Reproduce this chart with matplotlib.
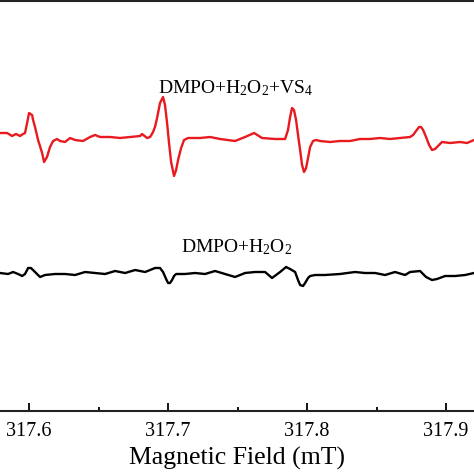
import matplotlib
matplotlib.use("Agg")
import matplotlib.pyplot as plt
from matplotlib.ticker import MultipleLocator

plt.rcParams['font.family'] = ['Liberation Serif', 'DejaVu Serif']
plt.rcParams['mathtext.default'] = 'regular'

# DMPO + H2O2 + VS4 (red), field in mT, intensity in a.u. about its baseline
field_vs4 = [317.5791, 317.5842, 317.5878, 317.5906, 317.5935, 317.5957, 317.5971,
             317.5986, 317.6000, 317.6022, 317.6029, 317.6043, 317.6065, 317.6094,
             317.6108, 317.6129, 317.6151, 317.6173, 317.6201, 317.6223, 317.6259,
             317.6295, 317.6331, 317.6388, 317.6439, 317.6475, 317.6511, 317.6583,
             317.6655, 317.6727, 317.6799, 317.6813, 317.6849, 317.6871, 317.6892,
             317.6906, 317.6921, 317.6942, 317.6964, 317.6978, 317.6993, 317.7007,
             317.7022, 317.7043, 317.7058, 317.7072, 317.7094, 317.7115, 317.7144,
             317.7230, 317.7302, 317.7374, 317.7482, 317.7554, 317.7619, 317.7676,
             317.7770, 317.7842, 317.7863, 317.7878, 317.7892, 317.7906, 317.7921,
             317.7935, 317.7950, 317.7964, 317.7978, 317.7993, 317.8007, 317.8022,
             317.8043, 317.8065, 317.8094, 317.8165, 317.8237, 317.8309, 317.8381,
             317.8453, 317.8525, 317.8597, 317.8669, 317.8741, 317.8763, 317.8784,
             317.8806, 317.8820, 317.8835, 317.8856, 317.8878, 317.8899, 317.8921,
             317.8942, 317.8971, 317.9029, 317.9101, 317.9151, 317.9201]
signal_vs4 = [5, 5, 2, 4, 2, 4, 5,
              15, 25, 23, 18, 11, -2, -15,
              -24, -19, -9, -3, -1, -3, -4,
              0, -2, -3, 1, 3, 1, 1,
              0, 1, 2, 4, 0, 1, 6,
              11, 20, 35, 41, 33, 15, -5,
              -24, -38, -32, -22, -10, -2, 0,
              0, 1, -1, -3, 1, 5, 0,
              -1, -1, 8, 21, 30, 28, 18,
              3, -12, -27, -34, -30, -20, -9,
              -3, -2, -3, -4, -3, -3, -1,
              -1, 0, -1, 0, 1, 3, 7,
              11, 11, 8, 1, -7, -12, -11,
              -8, -4, -5, -4, -5, -2]

# DMPO + H2O2 (black)
field_ctrl = [317.5791, 317.5849, 317.5885, 317.5921, 317.5950, 317.5971, 317.5986,
              317.5993, 317.6014, 317.6043, 317.6079, 317.6115, 317.6187, 317.6259,
              317.6331, 317.6403, 317.6475, 317.6547, 317.6619, 317.6691, 317.6763,
              317.6835, 317.6871, 317.6906, 317.6942, 317.6964, 317.6986, 317.7000,
              317.7014, 317.7029, 317.7043, 317.7058, 317.7122, 317.7194, 317.7266,
              317.7338, 317.7410, 317.7482, 317.7554, 317.7626, 317.7698, 317.7748,
              317.7806, 317.7849, 317.7878, 317.7914, 317.7935, 317.7950, 317.7971,
              317.7986, 317.8007, 317.8022, 317.8058, 317.8129, 317.8237, 317.8345,
              317.8417, 317.8489, 317.8561, 317.8633, 317.8705, 317.8741, 317.8813,
              317.8856, 317.8899, 317.8935, 317.8993, 317.9065, 317.9137, 317.9201]
signal_ctrl = [1, 0, 2, 0, -2, 0, 4,
               6, 6, 2, -3, -1, 0, 0,
               -1, 2, 1, 0, 3, 1, 4,
               2, 4, 6, 6, 2, -5, -9,
               -9, -6, -2, 0, 0, 1, 0,
               3, 0, -3, 1, 2, 2, -4,
               2, 7, 5, 2, -6, -11, -12,
               -9, -4, -2, -1, -1, 0, 2,
               1, 1, -1, 2, -1, 2, 3,
               -3, -6, -5, -2, -2, -1, 1]

labels = ['DMPO+H$_2$O$_2$+VS$_4$', 'DMPO+H$_2$O$_2$']

fig = plt.figure(figsize=(4.74, 4.74), dpi=100)
ax = fig.add_axes([0.0, 63 / 474, 1.0, 410 / 474])

off_vs4, off_ctrl = 273, 137
ax.plot(field_vs4, [v + off_vs4 for v in signal_vs4], color='#e8191f', lw=1.7)
ax.plot(field_ctrl, [v + off_ctrl for v in signal_ctrl], color='black', lw=1.7)

ax.text(317.7489, off_vs4 + 45, labels[0], ha='center', va='baseline', fontsize=14)
ax.text(317.7496, off_ctrl + 22, labels[1], ha='center', va='baseline', fontsize=14)

ax.set_xlim(317.5791, 317.9201)
ax.set_ylim(0, 410)
ax.xaxis.set_major_locator(MultipleLocator(0.1))
ax.xaxis.set_minor_locator(MultipleLocator(0.05))
ax.tick_params(axis='x', which='major', direction='in', length=6, width=1.3,
               labelsize=14.5, pad=8)
ax.tick_params(axis='x', which='minor', direction='in', length=3, width=1.3)
ax.set_yticks([])
for side in ['left', 'right']:
    ax.spines[side].set_visible(False)
for side in ['top', 'bottom']:
    ax.spines[side].set_linewidth(1.5)
    ax.spines[side].set_color('#222222')
ax.set_xlabel('Magnetic Field (mT)', fontsize=18.5, labelpad=4)

fig.savefig('out.png', dpi=100)
